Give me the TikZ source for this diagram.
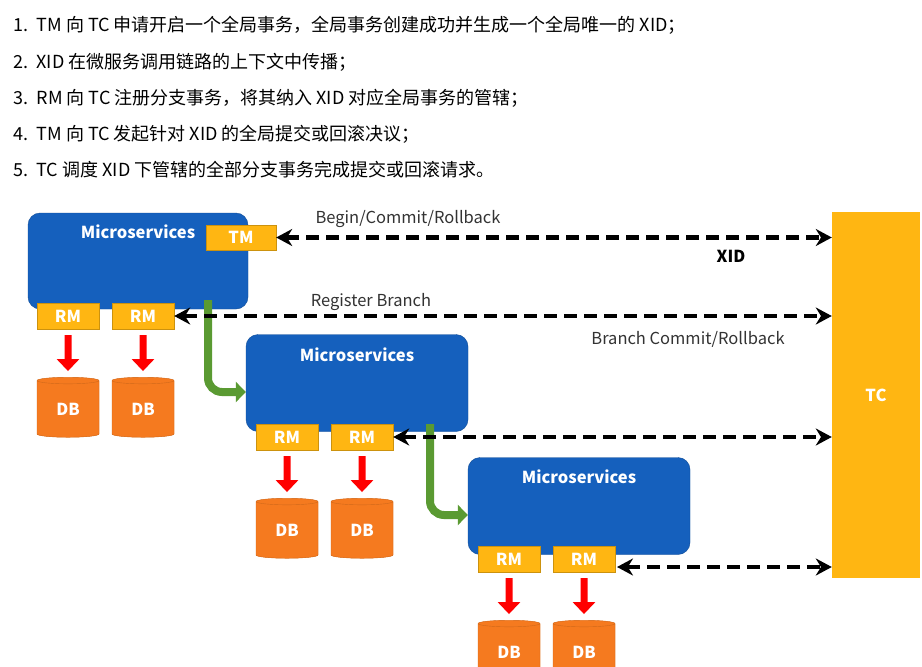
\documentclass[tikz,border=0pt]{standalone}
\usepackage{fontspec}
\setmainfont{Noto Sans CJK SC}
\usetikzlibrary{arrows.meta,shapes.geometric}
\definecolor{msblue}{HTML}{1560BD}
\definecolor{gold}{HTML}{FFB612}
\definecolor{dbor}{HTML}{F57A1F}
\definecolor{dbtop}{HTML}{F9A66A}
\definecolor{grn}{HTML}{5A9A32}
\tikzset{
 ms/.style={fill=msblue,draw=msblue!80!black,rounded corners=12pt},
 mslbl/.style={text=white,font=\fontsize{16.5}{16.5}\selectfont\bfseries},
 box/.style={fill=gold,draw=gold!80!black,text=white,font=\fontsize{16.5}{16.5}\selectfont\bfseries,inner sep=0pt},
 db/.style={cylinder,shape border rotate=90,aspect=0.28,fill=dbor,draw=dbor!85!black,text=white,font=\fontsize{16.5}{16.5}\selectfont\bfseries,minimum width=62pt,minimum height=60pt,inner sep=0pt,cylinder uses custom fill,cylinder end fill=dbtop,cylinder body fill=dbor},
 red/.style={-{Triangle[length=12pt,width=22pt]},line width=7pt,draw=red},
 dsh/.style={{Stealth[length=16pt,width=17pt]}-{Stealth[length=16pt,width=17pt]},line width=4.5pt,dash pattern=on 13pt off 7pt},
 grnar/.style={-{Triangle[length=10pt,width=20pt]},line width=8pt,draw=grn,rounded corners=14pt},
 lbl/.style={font=\fontsize{16.5}{16.5}\selectfont,text=black!80},
 item/.style={anchor=west,font=\fontsize{18}{18}\selectfont}
}
\begin{document}
\begin{tikzpicture}[x=1pt,y=-1pt]
\useasboundingbox (0,0) rectangle (922,667);
\fill[white] (0,0) rectangle (922,667);
\foreach \n/\t/\yy in {1/TM 向 TC 申请开启一个全局事务，全局事务创建成功并生成一个全局唯一的 XID；/25,
 2/XID 在微服务调用链路的上下文中传播；/62,
 3/RM 向 TC 注册分支事务，将其纳入 XID 对应全局事务的管辖；/98,
 4/TM 向 TC 发起针对 XID 的全局提交或回滚决议；/134,
 5/TC 调度 XID 下管辖的全部分支事务完成提交或回滚请求。/170}
 {\node[item] (n\n) at (10,\yy) {\n.\ \ \t};}
% TC
\node[fill=gold,minimum width=88pt,minimum height=366pt,inner sep=0pt,text=white,font=\fontsize{16.5}{16.5}\selectfont\bfseries] (tc) at (876,395) {TC};
% MS1
\node[ms,minimum width=220pt,minimum height=96pt] (ms1) at (138,261) {};
\node[mslbl] (ml1) at (138,232) {Microservices};
\node[box,minimum width=70pt,minimum height=25pt] (tm) at (241,237.5) {TM};
\node[box,minimum width=62pt,minimum height=26pt] (r11) at (68,316) {RM};
\node[box,minimum width=62pt,minimum height=26pt] (r12) at (143,316) {RM};
\node[db] (d11) at (68,409) {DB};
\node[db] (d12) at (143,409) {DB};
% MS2
\node[ms,minimum width=222pt,minimum height=97pt] (ms2) at (357,383) {};
\node[mslbl] (ml2) at (357,355) {Microservices};
\node[box,minimum width=62pt,minimum height=26pt] (r21) at (287,437) {RM};
\node[box,minimum width=62pt,minimum height=26pt] (r22) at (362,437) {RM};
\node[db] (d21) at (287,530) {DB};
\node[db] (d22) at (362,530) {DB};
% MS3
\node[ms,minimum width=222pt,minimum height=97pt] (ms3) at (579,506) {};
\node[mslbl] (ml3) at (579,477) {Microservices};
\node[box,minimum width=62pt,minimum height=26pt] (r31) at (509,559) {RM};
\node[box,minimum width=62pt,minimum height=26pt] (r32) at (584,559) {RM};
\node[db] (d31) at (509,652) {DB};
\node[db] (d32) at (584,652) {DB};
% red arrows
\foreach \r/\d in {r11/d11,r12/d12,r21/d21,r22/d22,r31/d31,r32/d32}
 \draw[red] ([yshift=-6pt]\r.south) -- ([yshift=6pt]\d.north);
% green arrows
\coordinate (g1) at (208,300);
\draw[grnar] (g1) |- (ms2.west|-0,392);
\coordinate (g2) at (430,424);
\draw[grnar] (g2) |- (ms3.west|-0,515);
% dashed
\draw[dsh] (tm.east) -- (tc.west|-tm.east);
\draw[dsh] (r12.east) -- (tc.west|-r12.east);
\draw[dsh] (r22.east) -- (tc.west|-r22.east);
\coordinate (e3) at (617,567);
\draw[dsh] (e3) -- (tc.west|-e3);
\node[lbl] (l1) at (408,219) {Begin/Commit/Rollback};
\node[font=\fontsize{16.5}{16.5}\selectfont\bfseries] (l2) at (731,256) {XID};
\node[lbl] (l3) at (371,302) {Register Branch};
\node[lbl] (l4) at (688,339) {Branch Commit/Rollback};
\end{tikzpicture}
\end{document}
